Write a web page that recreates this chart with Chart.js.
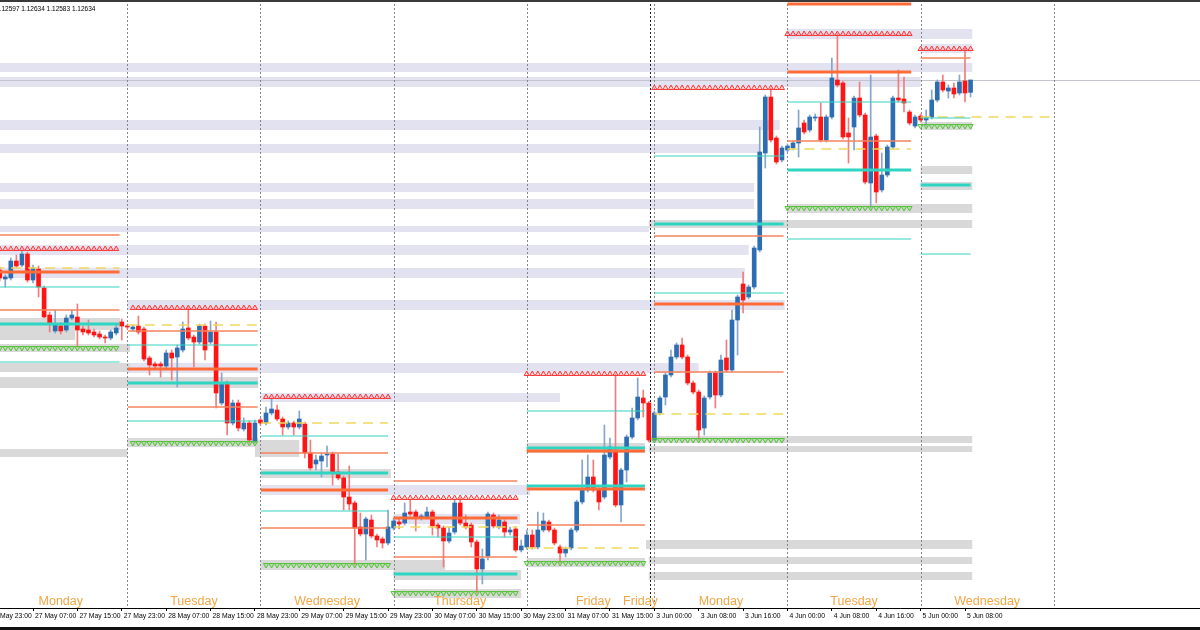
<!DOCTYPE html>
<html lang="en">
<head>
    <meta charset="UTF-8">
    <title>EURUSD H1 - daily levels</title>
    <script src="https://cdn.jsdelivr.net/npm/chart.js"></script>
    <style>
        html, body { margin: 0; padding: 0; background: #fff; }
        canvas { display: block; }
    </style>
</head>
<body>
<canvas id="chart" width="1200" height="630"></canvas>
<script type="text/javascript">
    // hourly candles, hour index counted in trading hours from 27 May 00:00
    const firstHour = 1;
    const opens = [
        // Mon 27 May
        1.12064, 1.12037, 1.12040, 1.12091, 1.12079, 1.12112, 1.12034, 1.12067, 1.12010, 1.11929, 1.11881, 1.11896,
        1.11884, 1.11920, 1.11923, 1.11887, 1.11884, 1.11878, 1.11872, 1.11863, 1.11860, 1.11875, 1.11908,
        // Tue 28 May
        1.11896, 1.11887, 1.11896, 1.11887, 1.11800, 1.11782, 1.11782, 1.11776, 1.11815, 1.11803, 1.11824, 1.11890,
        1.11863, 1.11848, 1.11896, 1.11848, 1.11878, 1.11665, 1.11725, 1.11605, 1.11665, 1.11587, 1.11605, 1.11548,
        // Wed 29 May
        1.11614, 1.11605, 1.11635, 1.11644, 1.11617, 1.11593, 1.11605, 1.11593, 1.11602, 1.11515, 1.11482, 1.11491,
        1.11509, 1.11512, 1.11458, 1.11440, 1.11383, 1.11365, 1.11293, 1.11272, 1.11314, 1.11266, 1.11257, 1.11245,
        // Thu 30 May
        1.11290, 1.11308, 1.11305, 1.11338, 1.11338, 1.11320, 1.11323, 1.11338, 1.11299, 1.11290, 1.11251, 1.11278,
        1.11365, 1.11305, 1.11299, 1.11248, 1.11167, 1.11206, 1.11329, 1.11293, 1.11308, 1.11278, 1.11287, 1.11224,
        // Fri 31 May
        1.11233, 1.11269, 1.11233, 1.11284, 1.11308, 1.11284, 1.11233, 1.11215, 1.11230, 1.11284, 1.11368, 1.11404,
        1.11443, 1.11404, 1.11383, 1.11503, 1.11524, 1.11359, 1.11464, 1.11563, 1.11620, 1.11680, 1.11665,
        // Mon 3 Jun
        1.11554, 1.11635, 1.11683, 1.11749, 1.11803, 1.11839, 1.11803, 1.11725, 1.11698, 1.11590, 1.11683, 1.11755,
        1.11689, 1.11800, 1.11764, 1.11914, 1.12022, 1.11983, 1.12013, 1.12124, 1.12415, 1.12583, 1.12460, 1.12394,
        // Tue 4 Jun
        1.12424, 1.12430, 1.12445, 1.12505, 1.12484, 1.12520, 1.12523, 1.12454, 1.12523, 1.12634, 1.12625, 1.12475,
        1.12493, 1.12580, 1.12529, 1.12325, 1.12466, 1.12304, 1.12349, 1.12433, 1.12580, 1.12577, 1.12538, 1.12496,
        // Wed 5 Jun
        1.12526, 1.12514, 1.12523, 1.12574, 1.12628, 1.12601, 1.12610, 1.12595, 1.12631, 1.12597
    ];
    const highs = [
        1.12073, 1.12049, 1.12100, 1.12109, 1.12124, 1.12118, 1.12079, 1.12076, 1.12016, 1.11938, 1.11944, 1.11905,
        1.11929, 1.11944, 1.11962, 1.11896, 1.11914, 1.11887, 1.11881, 1.11869, 1.11884, 1.11899, 1.11917,
        1.11902, 1.11899, 1.11926, 1.11893, 1.11806, 1.11788, 1.11788, 1.11824, 1.11824, 1.11839, 1.11908, 1.11950,
        1.11869, 1.11902, 1.11902, 1.11911, 1.11908, 1.11755, 1.11731, 1.11674, 1.11674, 1.11620, 1.11611, 1.11614,
        1.11620, 1.11653, 1.11680, 1.11659, 1.11623, 1.11611, 1.11611, 1.11641, 1.11608, 1.11554, 1.11509, 1.11515,
        1.11536, 1.11518, 1.11512, 1.11446, 1.11476, 1.11371, 1.11335, 1.11323, 1.11329, 1.11272, 1.11263, 1.11344,
        1.11320, 1.11320, 1.11365, 1.11374, 1.11344, 1.11332, 1.11353, 1.11344, 1.11305, 1.11296, 1.11293, 1.11374,
        1.11380, 1.11329, 1.11305, 1.11254, 1.11227, 1.11338, 1.11335, 1.11329, 1.11314, 1.11293, 1.11293, 1.11254,
        1.11284, 1.11284, 1.11338, 1.11335, 1.11314, 1.11290, 1.11239, 1.11233, 1.11290, 1.11374, 1.11494, 1.11509,
        1.11494, 1.11410, 1.11599, 1.11560, 1.11752, 1.11470, 1.11569, 1.11650, 1.11740, 1.11704, 1.11670,
        1.11641, 1.11686, 1.11755, 1.11824, 1.11845, 1.11860, 1.11809, 1.11731, 1.11704, 1.11686, 1.11761, 1.11761,
        1.11809, 1.11854, 1.11944, 1.11989, 1.12058, 1.12019, 1.12136, 1.12493, 1.12589, 1.12610, 1.12466, 1.12436,
        1.12442, 1.12451, 1.12544, 1.12514, 1.12529, 1.12532, 1.12565, 1.12529, 1.12700, 1.12772, 1.12631, 1.12520,
        1.12586, 1.12628, 1.12535, 1.12649, 1.12472, 1.12415, 1.12439, 1.12586, 1.12664, 1.12643, 1.12544, 1.12529,
        1.12532, 1.12544, 1.12604, 1.12634, 1.12649, 1.12619, 1.12625, 1.12649, 1.12730, 1.12634
    ];
    const lows = [
        1.12031, 1.12013, 1.12034, 1.12070, 1.12073, 1.12028, 1.12025, 1.11983, 1.11920, 1.11878, 1.11875, 1.11872,
        1.11878, 1.11914, 1.11833, 1.11869, 1.11869, 1.11863, 1.11857, 1.11845, 1.11854, 1.11869, 1.11854,
        1.11887, 1.11881, 1.11872, 1.11791, 1.11749, 1.11770, 1.11743, 1.11770, 1.11734, 1.11713, 1.11818, 1.11854,
        1.11773, 1.11842, 1.11794, 1.11842, 1.11650, 1.11659, 1.11569, 1.11599, 1.11581, 1.11581, 1.11545, 1.11545,
        1.11599, 1.11599, 1.11629, 1.11611, 1.11569, 1.11587, 1.11569, 1.11587, 1.11500, 1.11464, 1.11464, 1.11443,
        1.11473, 1.11419, 1.11434, 1.11344, 1.11344, 1.11179, 1.11266, 1.11194, 1.11260, 1.11233, 1.11230, 1.11239,
        1.11284, 1.11287, 1.11299, 1.11326, 1.11281, 1.11314, 1.11317, 1.11269, 1.11263, 1.11173, 1.11245, 1.11272,
        1.11299, 1.11287, 1.11233, 1.11095, 1.11122, 1.11194, 1.11290, 1.11287, 1.11263, 1.11269, 1.11218, 1.11218,
        1.11227, 1.11227, 1.11227, 1.11278, 1.11278, 1.11239, 1.11185, 1.11203, 1.11224, 1.11278, 1.11362, 1.11398,
        1.11398, 1.11344, 1.11377, 1.11497, 1.11353, 1.11308, 1.11428, 1.11557, 1.11614, 1.11623, 1.11548,
        1.11548, 1.11629, 1.11659, 1.11743, 1.11797, 1.11797, 1.11719, 1.11692, 1.11554, 1.11569, 1.11677, 1.11650,
        1.11683, 1.11758, 1.11758, 1.11809, 1.11935, 1.11977, 1.12007, 1.12118, 1.12370, 1.12448, 1.12382, 1.12388,
        1.12418, 1.12424, 1.12403, 1.12472, 1.12478, 1.12511, 1.12448, 1.12448, 1.12517, 1.12613, 1.12457, 1.12385,
        1.12424, 1.12523, 1.12322, 1.12250, 1.12265, 1.12298, 1.12343, 1.12427, 1.12568, 1.12538, 1.12499, 1.12490,
        1.12508, 1.12496, 1.12517, 1.12568, 1.12598, 1.12580, 1.12580, 1.12589, 1.12568, 1.12583
    ];
    const closes = [
        1.12040, 1.12043, 1.12091, 1.12076, 1.12112, 1.12034, 1.12070, 1.12013, 1.11923, 1.11905, 1.11899, 1.11881,
        1.11920, 1.11929, 1.11884, 1.11878, 1.11875, 1.11869, 1.11863, 1.11860, 1.11878, 1.11890, 1.11896,
        1.11893, 1.11893, 1.11878, 1.11797, 1.11779, 1.11776, 1.11776, 1.11815, 1.11800, 1.11830, 1.11887, 1.11860,
        1.11848, 1.11896, 1.11824, 1.11878, 1.11695, 1.11725, 1.11605, 1.11665, 1.11590, 1.11605, 1.11554, 1.11605,
        1.11605, 1.11635, 1.11647, 1.11617, 1.11593, 1.11605, 1.11593, 1.11617, 1.11515, 1.11470, 1.11494, 1.11506,
        1.11512, 1.11458, 1.11440, 1.11383, 1.11362, 1.11290, 1.11272, 1.11317, 1.11266, 1.11254, 1.11245, 1.11293,
        1.11311, 1.11302, 1.11335, 1.11332, 1.11323, 1.11326, 1.11338, 1.11296, 1.11290, 1.11251, 1.11275, 1.11365,
        1.11305, 1.11293, 1.11248, 1.11167, 1.11197, 1.11332, 1.11296, 1.11314, 1.11278, 1.11284, 1.11224, 1.11236,
        1.11269, 1.11233, 1.11284, 1.11311, 1.11284, 1.11245, 1.11215, 1.11227, 1.11284, 1.11368, 1.11404, 1.11443,
        1.11404, 1.11368, 1.11509, 1.11533, 1.11359, 1.11464, 1.11563, 1.11620, 1.11683, 1.11665, 1.11554,
        1.11635, 1.11680, 1.11749, 1.11803, 1.11839, 1.11803, 1.11725, 1.11698, 1.11584, 1.11680, 1.11755, 1.11689,
        1.11794, 1.11764, 1.11914, 1.11983, 1.11974, 1.12013, 1.12130, 1.12418, 1.12583, 1.12454, 1.12388, 1.12430,
        1.12436, 1.12445, 1.12490, 1.12478, 1.12523, 1.12523, 1.12454, 1.12523, 1.12640, 1.12619, 1.12463, 1.12463,
        1.12580, 1.12529, 1.12328, 1.12463, 1.12298, 1.12349, 1.12433, 1.12580, 1.12574, 1.12565, 1.12505, 1.12523,
        1.12514, 1.12523, 1.12574, 1.12628, 1.12604, 1.12610, 1.12592, 1.12628, 1.12595, 1.12634
    ];

    // time axis labels (every 8 bars)
    const tickHours = [-1, 7, 15, 23, 31, 39, 47, 55, 63, 71, 79, 87, 95, 103, 111, 119, 127, 135, 143, 151, 159, 167, 175];
    const tickLabels = ['26 May 23:00', '27 May 07:00', '27 May 15:00', '27 May 23:00', '28 May 07:00', '28 May 15:00',
        '28 May 23:00', '29 May 07:00', '29 May 15:00', '29 May 23:00', '30 May 07:00', '30 May 15:00', '30 May 23:00',
        '31 May 07:00', '31 May 15:00', '3 Jun 00:00', '3 Jun 08:00', '3 Jun 16:00', '4 Jun 00:00', '4 Jun 08:00',
        '4 Jun 16:00', '5 Jun 00:00', '5 Jun 08:00'];
    const hourMin = 1.05, hourMax = 217.36;
    const priceMin = 1.11050, priceMax = 1.12874;

    // trading days
    const dayFrom = [0, 24.1, 48.1, 72, 96, 119, 143, 167];
    const dayTo = [22.6, 47.5, 71, 94.3, 117.3, 142.3, 165.3, 176];
    const dayHigh = [1.12127, 1.11950, 1.11683, 1.11380, 1.11752, 1.12610, 1.12772, 1.12727];
    const dayLow = [1.11830, 1.11545, 1.11179, 1.11095, 1.11185, 1.11554, 1.12250, 1.12496];
    const separatorHours = [24, 48, 72, 96, 119, 143, 167, 191];
    const weekBreakHour = 118.2;
    const pivotForwardTo = 190.3;

    const weekdayNames = ['Monday', 'Tuesday', 'Wednesday', 'Thursday', 'Friday', 'Friday', 'Monday', 'Tuesday', 'Wednesday'];
    const weekdayAt = [12, 36, 60, 84, 108, 116.5, 131, 155, 179];

    // daily levels
    const levelDay = [
        0, 0, 0, 0, 0, 0, 0,
        1, 1, 1, 1, 1, 1, 1,
        2, 2, 2, 2, 2, 2, 2,
        3, 3, 3, 3, 3, 3,
        4, 4, 4, 4, 4, 4, 4,
        5, 5, 5, 5, 5, 5, 5,
        6, 6, 6, 6, 6, 6, 6,
        7, 7, 7, 7, 7
    ];
    const levelPrice = [
        1.12169, 1.12070, 1.12058, 1.12013, 1.11944, 1.11902, 1.11788,
        1.11899, 1.11881, 1.11839, 1.11767, 1.11725, 1.11653, 1.11611,
        1.11605, 1.11566, 1.11515, 1.11455, 1.11404, 1.11341, 1.11290,
        1.11431, 1.11320, 1.11293, 1.11263, 1.11203, 1.11152,
        1.11641, 1.11530, 1.11521, 1.11416, 1.11407, 1.11299, 1.11230,
        1.12406, 1.12202, 1.12166, 1.11995, 1.11962, 1.11758, 1.11632,
        1.12862, 1.12658, 1.12568, 1.12451, 1.12427, 1.12364, 1.12157,
        1.12700, 1.12523, 1.12520, 1.12319, 1.12112
    ];
    const levelKind = [
        'thin', 'pivot', 'thick', 'tealThin', 'thin', 'tealThick', 'tealThin',
        'pivot', 'thin', 'tealThin', 'thick', 'tealThick', 'thin', 'tealThin',
        'pivot', 'tealThin', 'thin', 'tealThick', 'thick', 'tealThin', 'thin',
        'thin', 'thick', 'pivot', 'tealThin', 'thin', 'tealThick',
        'tealThin', 'tealThick', 'thick', 'tealThick', 'thick', 'thin', 'pivot',
        'tealThin', 'tealThick', 'thin', 'tealThin', 'thick', 'thin', 'pivot',
        'thick', 'thick', 'tealThin', 'thin', 'pivot', 'tealThick', 'tealThin',
        'thin', 'pivot', 'tealThin', 'tealThick', 'tealThin'
    ];

    // zones (hour range, price range)
    const bandFrom = [
        -1, -1, -1, -1, -1, -1, -1, -1, -1, 24, 24, 48, 48, 72, 143, 167,
        0, 0, 0, 0, 0, 24, 0, 47, 48, 48, 72, 72, 96, 96, 118, 118, 117.5, 118, 118, 118, 143, 167, 167, 167
    ];
    const bandTo = [
        176.3, 167, 141.6, 138, 137, 137, 118, 136, 135.3, 142.5, 127, 102, 96.6, 94.8, 176.3, 176.3,
        22.7, 14.6, 24.5, 24.5, 47.6, 47.6, 24, 55, 71.5, 81.3, 95, 95, 117.3, 117.3, 176.3, 176.3, 176.3, 176.3, 176.3, 176.3, 176.3, 176.3, 176.3, 176.3
    ];
    const bandTop = [
        1.12685, 1.12643, 1.12514, 1.12442, 1.12325, 1.12277, 1.12196, 1.12139, 1.12070, 1.11974, 1.11785, 1.11695, 1.11419, 1.11332, 1.12787, 1.12742,
        1.11920, 1.11884, 1.11842, 1.11785, 1.11743, 1.11560, 1.11527, 1.11554, 1.11467, 1.11194, 1.11164, 1.11107, 1.11545, 1.11200,
        1.11566, 1.11536, 1.11254, 1.11203, 1.11158, 1.12214, 1.12262, 1.12376, 1.12328, 1.12508
    ];
    const bandBottom = [
        1.12658, 1.12613, 1.12484, 1.12415, 1.12298, 1.12247, 1.12178, 1.12109, 1.12040, 1.11944, 1.11755, 1.11668, 1.11389, 1.11302, 1.12757, 1.12715,
        1.11884, 1.11854, 1.11818, 1.11758, 1.11710, 1.11533, 1.11503, 1.11503, 1.11440, 1.11164, 1.11134, 1.11080, 1.11515, 1.11173,
        1.11545, 1.11518, 1.11227, 1.11182, 1.11134, 1.12190, 1.12235, 1.12352, 1.12304, 1.12484
    ];
    const bandKind = [
        'zone', 'zone', 'zone', 'zone', 'zone', 'zone', 'zone', 'zone', 'zone', 'zone', 'zone', 'zone', 'zone', 'zone', 'zone', 'zone',
        'base', 'base', 'base', 'base', 'base', 'base', 'base', 'base', 'base', 'base', 'base', 'base', 'base', 'base',
        'base', 'base', 'base', 'base', 'base', 'base', 'base', 'base', 'base', 'base'
    ];

    // styles
    const levelStyles = {
        thick: { color: '#ff6c38', width: 3 },
        thin: { color: '#f6835c', width: 1.5 },
        tealThick: { color: '#2ed5c2', width: 3 },
        tealThin: { color: '#36d4c1', width: 1.2 },
        pivot: { color: '#f0d85e', width: 1.5, dash: [10, 7] }
    };
    const bandColors = { zone: '#e2e2f1', base: '#d9d9d9' };
    const bullBody = '#2d6db1', bearBody = '#ff1414', bullWick = '#86a5cc', bearWick = '#f27c7c';
    const fontFamily = '"Liberation Sans", Arial, sans-serif';

    // build chart data
    const wickData = [], bodyData = [], wickColors = [], bodyColors = [];
    opens.forEach((o, i) => {
        const k = firstHour + i;
        const up = closes[i] >= o;
        wickData.push({ x: k, y: [lows[i], highs[i]] });
        bodyData.push({ x: k, y: [o, closes[i]] });
        wickColors.push(up ? bullWick : bearWick);
        bodyColors.push(up ? bullBody : bearBody);
    });

    const highMarks = [], lowMarks = [];
    dayFrom.forEach((from, d) => {
        for (let k = Math.ceil(from); k <= Math.floor(dayTo[d]); k++) {
            highMarks.push({ x: k, y: dayHigh[d] });
            lowMarks.push({ x: k, y: dayLow[d] });
        }
    });

    // zones, separators, levels and captions
    const overlay = {
        id: 'overlay',
        beforeDatasetsDraw(chart) {
            const { ctx, chartArea, scales: { x, y } } = chart;
            ctx.save();
            ['zone', 'base'].forEach(kind => {
                ctx.fillStyle = bandColors[kind];
                bandFrom.forEach((f, i) => {
                    if (bandKind[i] !== kind) return;
                    const x0 = x.getPixelForValue(f), x1 = x.getPixelForValue(bandTo[i]);
                    const y0 = y.getPixelForValue(bandTop[i]), y1 = y.getPixelForValue(bandBottom[i]);
                    ctx.fillRect(x0, y0, x1 - x0, y1 - y0);
                });
            });

            // current price line
            const cy = Math.round(y.getPixelForValue(closes[closes.length - 1])) + 0.5;
            ctx.strokeStyle = '#c4c4cc';
            ctx.lineWidth = 1;
            ctx.beginPath();
            ctx.moveTo(0, cy);
            ctx.lineTo(chart.width, cy);
            ctx.stroke();

            // day separators
            ctx.setLineDash([2, 2]);
            separatorHours.forEach(h => {
                const px = Math.round(x.getPixelForValue(h)) + 0.5;
                ctx.strokeStyle = '#858585';
                ctx.beginPath();
                ctx.moveTo(px, chartArea.top);
                ctx.lineTo(px, chartArea.bottom);
                ctx.stroke();
            });
            const wx = Math.round(x.getPixelForValue(weekBreakHour)) + 0.5;
            ctx.strokeStyle = '#202020';
            ctx.beginPath();
            ctx.moveTo(wx, chartArea.top);
            ctx.lineTo(wx, chartArea.bottom);
            ctx.stroke();
            ctx.restore();
        },
        afterDatasetsDraw(chart) {
            const { ctx, chartArea, scales: { x, y } } = chart;
            ctx.save();
            const lastDay = dayFrom.length - 1;
            levelPrice.forEach((p, i) => {
                const d = levelDay[i];
                const st = levelStyles[levelKind[i]];
                const to = (levelKind[i] === 'pivot' && d === lastDay) ? pivotForwardTo : dayTo[d];
                const py = y.getPixelForValue(p);
                ctx.strokeStyle = st.color;
                ctx.lineWidth = st.width;
                ctx.setLineDash(st.dash || []);
                ctx.beginPath();
                ctx.moveTo(x.getPixelForValue(dayFrom[d]), py);
                ctx.lineTo(x.getPixelForValue(to), py);
                ctx.stroke();
            });
            ctx.setLineDash([]);

            // weekday captions
            ctx.fillStyle = '#f4a544';
            ctx.font = '12.5px ' + fontFamily;
            ctx.textAlign = 'center';
            ctx.textBaseline = 'middle';
            weekdayNames.forEach((name, i) => {
                ctx.fillText(name, x.getPixelForValue(weekdayAt[i]), chartArea.bottom - 6);
            });

            // OHLC of the last bar
            const n = opens.length - 1;
            ctx.fillStyle = '#000';
            ctx.font = '6.5px ' + fontFamily;
            ctx.textAlign = 'left';
            ctx.textBaseline = 'alphabetic';
            ctx.fillText([opens[n], highs[n], lows[n], closes[n]].map(v => v.toFixed(5)).join(' '), -4, 11);

            // frame
            ctx.fillStyle = '#3a3a3a';
            ctx.fillRect(0, 0, chart.width, 2);
            ctx.fillStyle = '#111';
            ctx.fillRect(0, chart.height - 3, chart.width, 3);
            ctx.restore();
        }
    };

    new Chart(document.getElementById('chart'), {
        type: 'bar',
        data: {
            datasets: [
                {
                    label: 'wicks',
                    data: wickData,
                    backgroundColor: wickColors,
                    barThickness: 1,
                    grouped: false,
                    order: 3
                },
                {
                    label: 'bodies',
                    data: bodyData,
                    backgroundColor: bodyColors,
                    barThickness: 4,
                    minBarLength: 1,
                    grouped: false,
                    order: 2
                },
                {
                    type: 'scatter',
                    label: 'day high',
                    data: highMarks,
                    pointStyle: 'triangle',
                    pointRadius: 3,
                    borderColor: '#ff3636',
                    backgroundColor: 'rgba(255,140,140,0.35)',
                    borderWidth: 1,
                    order: 1
                },
                {
                    type: 'scatter',
                    label: 'day low',
                    data: lowMarks,
                    pointStyle: 'triangle',
                    rotation: 180,
                    pointRadius: 3,
                    borderColor: '#55c23a',
                    backgroundColor: 'rgba(130,220,100,0.35)',
                    borderWidth: 1,
                    order: 1
                }
            ]
        },
        options: {
            responsive: false,
            animation: false,
            devicePixelRatio: 1,
            layout: { padding: 0, autoPadding: false },
            plugins: {
                legend: { display: false },
                tooltip: { enabled: false }
            },
            scales: {
                x: {
                    type: 'linear',
                    min: hourMin,
                    max: hourMax,
                    offset: false,
                    bounds: 'data',
                    afterBuildTicks: scale => { scale.ticks = tickHours.map(v => ({ value: v })); },
                    afterFit: scale => {
                        scale.height = 22;
                        scale.paddingLeft = 0;
                        scale.paddingRight = 0;
                    },
                    grid: { offset: false, drawOnChartArea: false, drawTicks: true, tickLength: 3, color: '#000' },
                    border: { display: true, color: '#000' },
                    ticks: {
                        autoSkip: false,
                        maxRotation: 0,
                        align: 'start',
                        labelOffset: 2,
                        padding: 1,
                        color: '#000',
                        font: { family: fontFamily, size: 6.8 },
                        callback: (value, index) => tickLabels[index]
                    }
                },
                y: {
                    display: false,
                    min: priceMin,
                    max: priceMax
                }
            }
        },
        plugins: [overlay]
    });
</script>
</body>
</html>
